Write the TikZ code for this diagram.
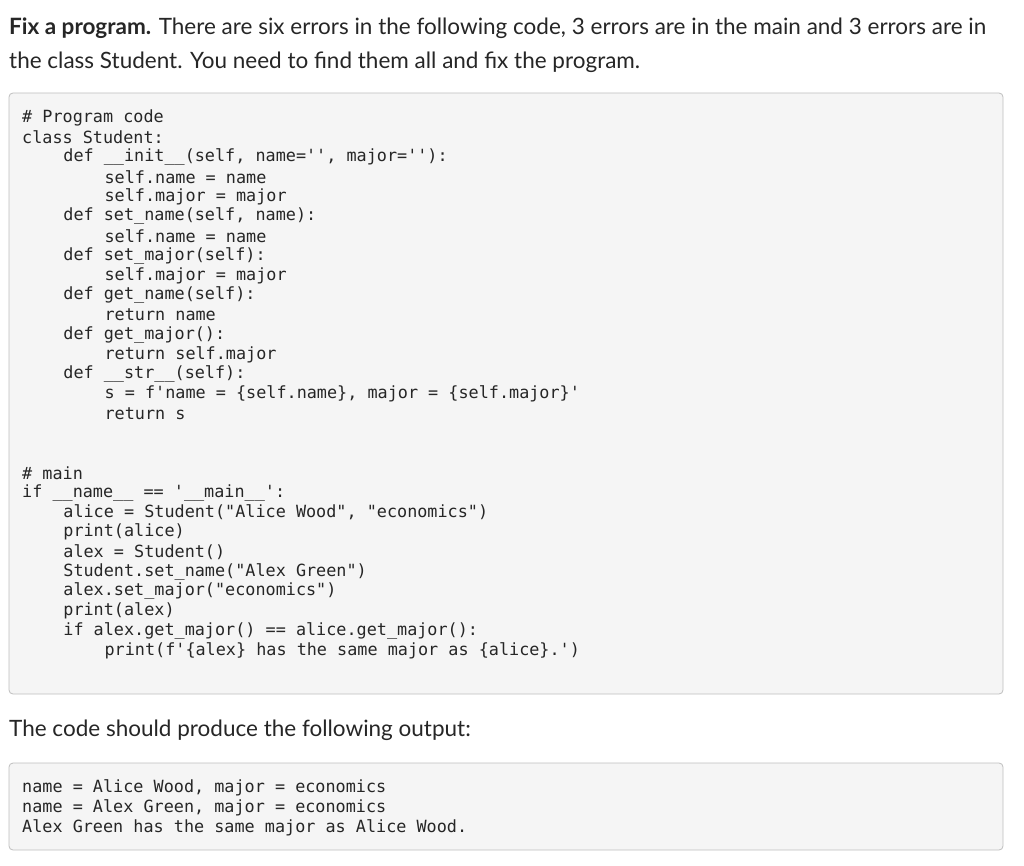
\documentclass[tikz,border=0pt]{standalone}
\usepackage{fontspec}
\setmainfont{Lato}
\newfontfamily\code{DejaVu Sans Mono}
\begin{document}
\begin{tikzpicture}[x=1pt,y=-1pt,
  box/.style={draw=black!25,fill=black!4,rounded corners=4pt,line width=0.8pt},
  cl/.style={anchor=west,inner sep=0pt,font=\code\fontsize{16.8}{19}\selectfont,text=black!85},
  tx/.style={anchor=west,inner sep=0pt,font=\fontsize{22.5}{26}\selectfont,text=black!85}]
\useasboundingbox (0,0) rectangle (1024,866);
\fill[white] (0,0) rectangle (1024,866);
\node[tx] (t1) at (9,28) {\textbf{Fix a program.} There are six errors in the following code, 3 errors are in the main and 3 errors are in};
\node[tx] (t2) at (9,62) {the class Student. You need to find them all and fix the program.};
\path[box] (9,93) rectangle (1003,694);
\def\L#1#2#3{\node[cl] at ({22+#2*10.3},{117.5+#1*19.75}) {#3};}
\L{0}{0}{\# Program code}
\L{1}{0}{class Student:}
\L{2}{4}{def \_\_init\_\_(self, name='', major=''):}
\L{3}{8}{self.name = name}
\L{4}{8}{self.major = major}
\L{5}{4}{def set\_name(self, name):}
\L{6}{8}{self.name = name}
\L{7}{4}{def set\_major(self):}
\L{8}{8}{self.major = major}
\L{9}{4}{def get\_name(self):}
\L{10}{8}{return name}
\L{11}{4}{def get\_major():}
\L{12}{8}{return self.major}
\L{13}{4}{def \_\_str\_\_(self):}
\L{14}{8}{s = f'name = \{self.name\}, major = \{self.major\}'}
\L{15}{8}{return s}
\L{18}{0}{\# main}
\L{19}{0}{if \_\_name\_\_ == '\_\_main\_\_':}
\L{20}{4}{alice = Student("Alice Wood", "economics")}
\L{21}{4}{print(alice)}
\L{22}{4}{alex = Student()}
\L{23}{4}{Student.set\_name("Alex Green")}
\L{24}{4}{alex.set\_major("economics")}
\L{25}{4}{print(alex)}
\L{26}{4}{if alex.get\_major() == alice.get\_major():}
\L{27}{8}{print(f'\{alex\} has the same major as \{alice\}.')}
\node[tx] (t3) at (9,730) {The code should produce the following output:};
\path[box] (9,763) rectangle (1003,850);
\def\O#1#2{\node[cl] at (22,{787.5+#1*20}) {#2};}
\O{0}{name = Alice Wood, major = economics}
\O{1}{name = Alex Green, major = economics}
\O{2}{Alex Green has the same major as Alice Wood.}
\end{tikzpicture}
\end{document}
